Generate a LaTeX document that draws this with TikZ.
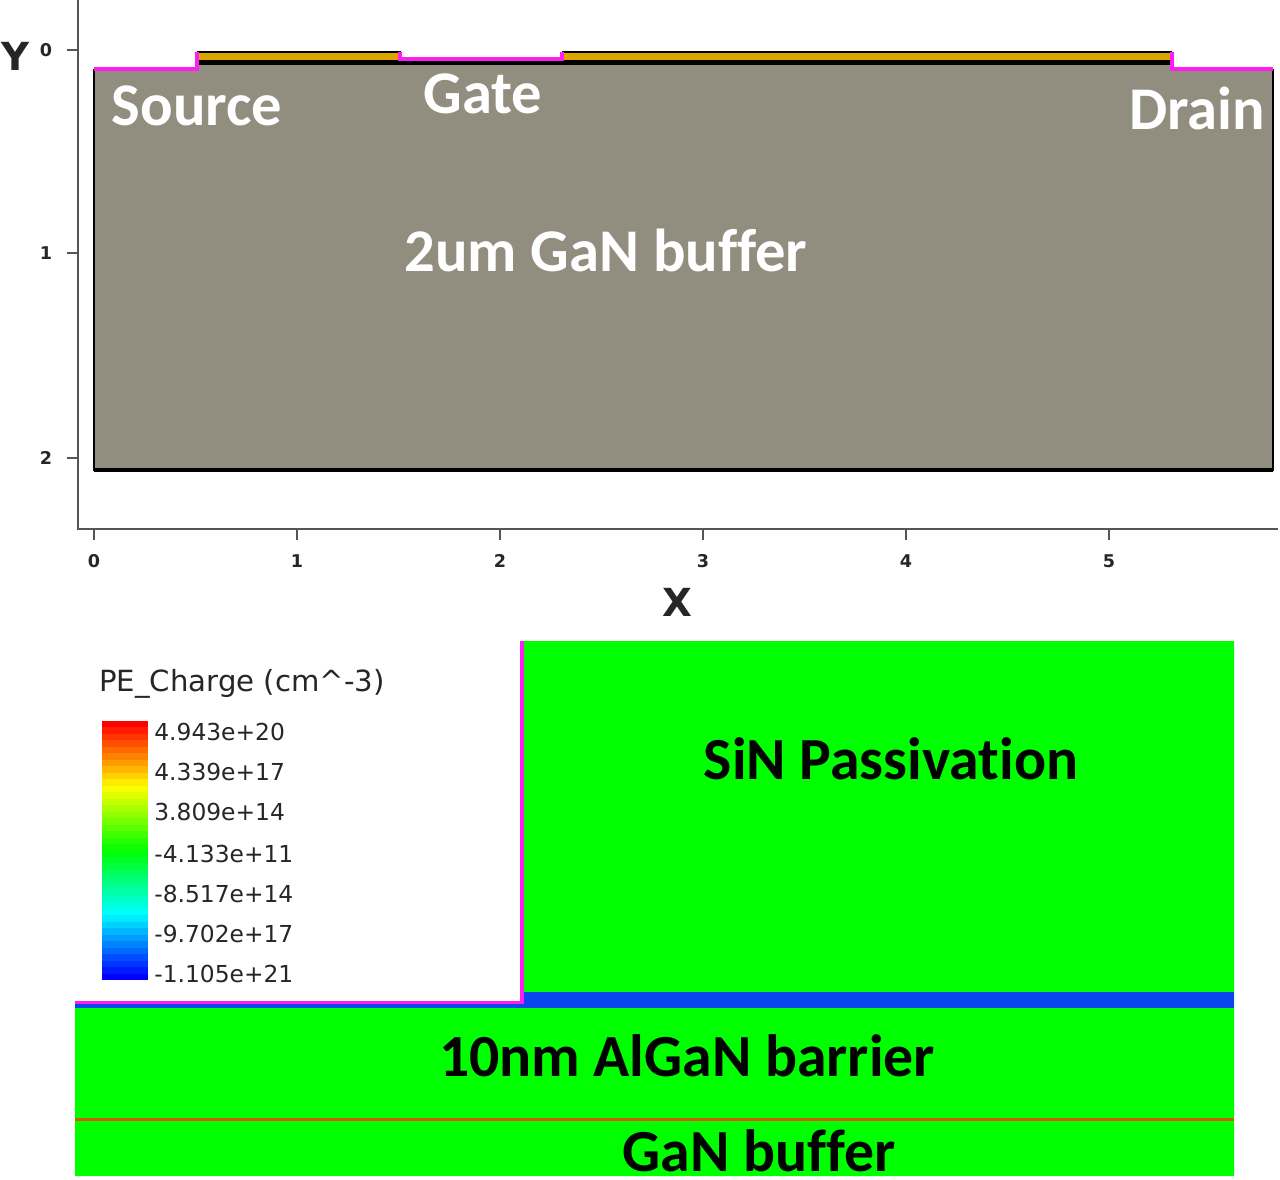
\documentclass[tikz,border=0pt]{standalone}
\usepackage{fontspec}
\setmainfont[Ligatures=CommonOff]{Carlito}
\newfontfamily\plotfont{DejaVu Sans}
\definecolor{ganGrey}{HTML}{918E7F}
\definecolor{metalGold}{HTML}{DCA400}
\definecolor{meshGreen}{HTML}{00FF00}
\definecolor{layerBlue}{HTML}{0A46F0}
\definecolor{edgeMagenta}{HTML}{FF1EF0}
\definecolor{chargeOrange}{HTML}{D05A00}
\definecolor{axisGrey}{HTML}{555555}
\tikzset{
	whitelabel/.style={text=white, font=\fontsize{34.5}{34.5}\selectfont\bfseries, inner sep=0pt},
	blacklabel/.style={text=black, font=\fontsize{34}{34}\selectfont\bfseries, inner sep=0pt},
	ticklabel/.style={text=black!85, font=\plotfont\fontsize{10}{10}\selectfont\bfseries, inner sep=0pt},
	axislabel/.style={text=black!85, font=\plotfont\fontsize{22}{22}\selectfont\bfseries, inner sep=0pt},
	barlabel/.style={text=black!85, anchor=west, font=\plotfont\fontsize{13.3}{13.3}\selectfont, inner sep=0pt},
	axisline/.style={draw=axisGrey, line width=1pt},
}
\begin{document}
\begin{tikzpicture}[x=0.02cm,y=-0.02cm]
\useasboundingbox (0,0) rectangle (1280,1179);

% device cross section
\fill[ganGrey] (94,69) -- (197,69) -- (197,64) -- (1172,64) -- (1172,69) -- (1273,69) -- (1273,470) -- (94,470) -- cycle;
\fill[black] (197,51) rectangle (1172,65);
\fill[white] (401,50) rectangle (562,58);
\fill[metalGold] (198,53) rectangle (400,60);
\fill[metalGold] (563,53) rectangle (1171,60);
\draw[line width=1pt] (94,69) -- (94,470) -- (1273,470) -- (1273,69);
\draw[line width=1.8pt] (94,470) -- (1273,470);
\draw[edgeMagenta, line width=2pt] (94,69) -- (197,69) -- (197,52);
\draw[edgeMagenta, line width=2pt] (400,52) -- (400,59) -- (562,59) -- (562,52);
\draw[edgeMagenta, line width=2pt] (1172,52) -- (1172,69) -- (1273,69);

% axes
\draw[axisline] (78,0) -- (78,529) -- (1278,529);
\foreach \y/\yval in {50/0,253/1,458/2} {
	\draw[axisline] (67,\y) -- (78,\y);
	\node[ticklabel] (ytick\yval) at (46,\y) {\yval};
}
\foreach \x/\xval in {94/0,297/1,500/2,703/3,906/4,1109/5} {
	\draw[axisline] (\x,529) -- (\x,540);
	\node[ticklabel] (xtick\xval) at (\x,561) {\xval};
}
\node[axislabel] (xname) at (677,602) {X};
\node[axislabel] (yname) at (15,56) {Y};

\node[whitelabel] (source) at (197,106) {Source};
\node[whitelabel] (gate) at (483,94) {Gate};
\node[whitelabel] (drain) at (1197,108) {Drain};
\node[whitelabel] (buffer) at (606,250) {2um GaN buffer};

% charge plot
\fill[meshGreen] (75,1001) -- (522,1001) -- (522,641) -- (1234,641) -- (1234,1176) -- (75,1176) -- cycle;
\fill[layerBlue] (522,992) rectangle (1234,1008);
\fill[layerBlue] (75,1001) rectangle (522,1008);
\fill[chargeOrange] (75,1117.5) rectangle (1234,1120.5);
\draw[edgeMagenta, line width=2pt] (75,1002.5) -- (522,1002.5) -- (522,641);

\node[blacklabel] (passivation) at (891,759) {SiN Passivation};
\node[blacklabel] (barrier) at (687,1056) {10nm AlGaN barrier};
\node[blacklabel] (lowerbuffer) at (759,1151) {GaN buffer};

% colour bar
\foreach \i in {0,...,39} {
	\pgfmathsetmacro{\bandhue}{\i*240/39}
	\definecolor{bandcolor}{Hsb}{\bandhue,1,1}
	\fill[bandcolor] (102,721+\i*6.475) rectangle (148,721+\i*6.475+6.7);
}
\node[anchor=west, text=black!85, font=\plotfont\fontsize{16.6}{16.6}\selectfont, inner sep=0pt] (bartitle) at (99,684) {PE\_Charge (cm\textasciicircum-3)};
\foreach \y/\barval/\barname in {732/4.943e+20/a,772/4.339e+17/b,812/3.809e+14/c,854/-4.133e+11/d,894/-8.517e+14/e,934/-9.702e+17/f,974/-1.105e+21/g} {
	\node[barlabel] (bar\barname) at (154,\y) {\barval};
}
\end{tikzpicture}
\end{document}
